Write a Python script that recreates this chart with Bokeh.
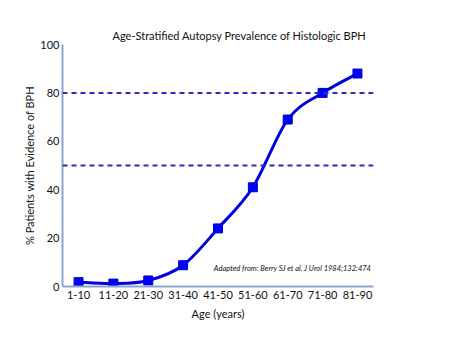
from bokeh.plotting import figure
from bokeh.models import Range1d, FixedTicker, Label, Span
from bokeh.embed import file_html
from bokeh.resources import INLINE

# Data
categories = ["1-10", "11-20", "21-30", "31-40", "41-50", "51-60", "61-70", "71-80", "81-90"]
prevalence = [1.8, 1.2, 2.5, 8.8, 24.0, 41.0, 69.0, 80.0, 88.0]
reference_levels = [80, 50]
y_ticks = [0, 20, 40, 60, 80, 100]

FONT = "Lato"
xs = list(range(len(categories)))

p = figure(width=474, height=355, output_backend="svg", toolbar_location=None,
           x_range=Range1d(-0.46, len(categories) - 1 + 0.46), y_range=Range1d(0, 100),
           min_border_left=62, min_border_right=101, min_border_top=44, min_border_bottom=69)
p.outline_line_color = None
p.grid.visible = False
p.background_fill_color = "white"
p.border_fill_color = "white"

# Title
p.title.text = "Age-Stratified Autopsy Prevalence of Histologic BPH"
p.title.align = "left"
p.title.offset = 50
p.title.text_font = FONT
p.title.text_font_style = "normal"
p.title.text_font_size = "11px"
p.title.text_color = "#111111"
p.title.standoff = 6

# Axes
for ax in (p.xaxis[0], p.yaxis[0]):
    ax.axis_line_color = "#8ea3cc"
    ax.axis_line_width = 2
    ax.major_tick_line_color = None
    ax.major_tick_out = 0
    ax.major_tick_in = 0
    ax.minor_tick_line_color = None
    ax.minor_tick_out = 0
    ax.minor_tick_in = 0
    ax.major_label_text_font = FONT
    ax.major_label_text_font_size = "11px"
    ax.major_label_text_color = "#111111"
    ax.axis_label_text_font = FONT
    ax.axis_label_text_font_size = "11px"
    ax.axis_label_text_font_style = "normal"
    ax.axis_label_text_color = "#111111"

p.xaxis.ticker = FixedTicker(ticks=xs)
p.xaxis.major_label_overrides = {i: c for i, c in enumerate(categories)}
p.xaxis.major_label_standoff = 4
p.xaxis.axis_label = "Age (years)"
p.xaxis.axis_label_standoff = 5

p.yaxis.ticker = FixedTicker(ticks=y_ticks)
p.yaxis.major_label_standoff = 3
p.yaxis.axis_label = "% Patients with Evidence of BPH"
p.yaxis.axis_label_standoff = 1

# Reference dashed lines
for lvl in reference_levels:
    p.add_layout(Span(location=lvl, dimension="width", line_color="#2a2ac0",
                      line_width=2, line_dash="5 4"))

# Smooth curve through points (Catmull-Rom as Bezier segments)
n = len(xs)
x0, y0, x1, y1, cx0, cy0, cx1, cy1 = [], [], [], [], [], [], [], []
for i in range(n - 1):
    pm = i - 1 if i > 0 else i
    pn = i + 2 if i + 2 < n else i + 1
    x0.append(xs[i]); y0.append(prevalence[i])
    x1.append(xs[i + 1]); y1.append(prevalence[i + 1])
    cx0.append(xs[i] + (xs[i + 1] - xs[pm]) / 6)
    cy0.append(prevalence[i] + (prevalence[i + 1] - prevalence[pm]) / 6)
    cx1.append(xs[i + 1] - (xs[pn] - xs[i]) / 6)
    cy1.append(prevalence[i + 1] - (prevalence[pn] - prevalence[i]) / 6)
p.bezier(x0=x0, y0=y0, x1=x1, y1=y1, cx0=cx0, cy0=cy0, cx1=cx1, cy1=cy1,
         line_color="#0000dd", line_width=3)

p.scatter(xs, prevalence, marker="square", size=9, fill_color="#0000ff",
          line_color="#0000cc", line_width=1)

# Source annotation
p.add_layout(Label(x=3.88, y=7.4, text="Adapted from:  Berry SJ et al. J Urol 1984;132:474",
                   text_align="left", text_baseline="middle", text_font=FONT,
                   text_font_style="italic", text_font_size="7.5px", text_color="#111111"))

open("out.html", "w").write(file_html(p, INLINE))
